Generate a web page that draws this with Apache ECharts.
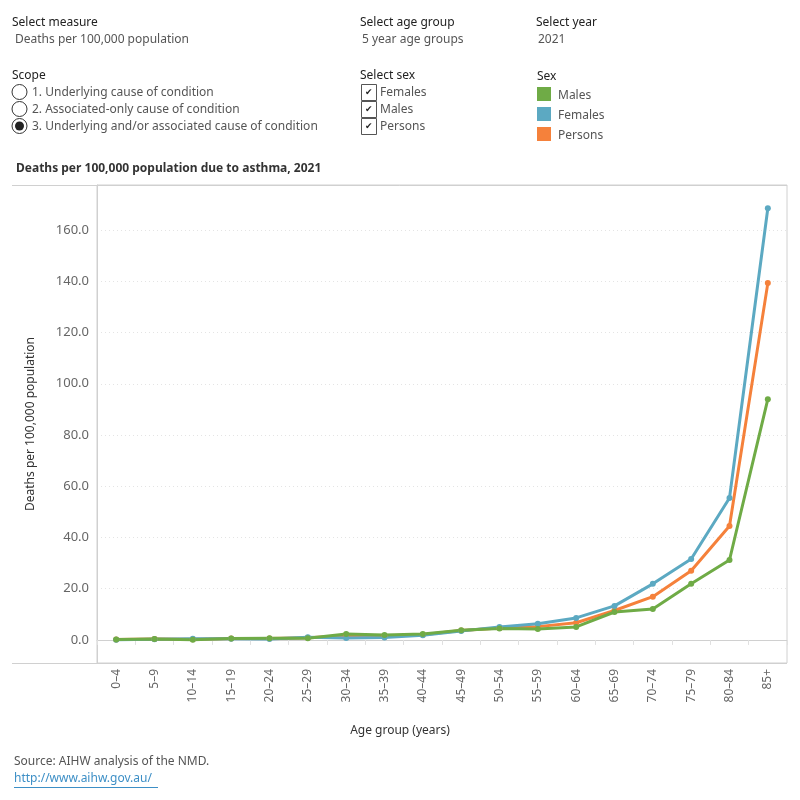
<!DOCTYPE html>
<html>
<head>
<meta charset="utf-8">
<script src="https://cdn.jsdelivr.net/npm/echarts@6/dist/echarts.min.js"></script>
<style>
  html, body { margin: 0; padding: 0; background: #fff; }
  #grafica { width: 800px; height: 800px; }
</style>
</head>
<body>
<div id="grafica"></div>
<script>
const ageGroups = ["0–4", "5–9", "10–14", "15–19", "20–24", "25–29", "30–34", "35–39", "40–44",
  "45–49", "50–54", "55–59", "60–64", "65–69", "70–74", "75–79", "80–84", "85+"];
const males = [0.2, 0.4, 0.1, 0.6, 0.7, 0.7, 2.3, 1.9, 2.3, 3.8, 4.5, 4.3, 5.1, 10.9, 12.1, 21.9, 31.2, 94.0];
const females = [0.1, 0.3, 0.5, 0.5, 0.4, 1.1, 0.8, 1.0, 1.8, 3.5, 5.1, 6.3, 8.6, 13.3, 21.9, 31.6, 55.4, 168.5];
const persons = [0.2, 0.4, 0.3, 0.6, 0.6, 0.9, 1.6, 1.5, 2.0, 3.7, 4.7, 5.2, 6.7, 11.5, 16.9, 27.0, 44.5, 139.3];
const yTicks = [0, 20, 40, 60, 80, 100, 120, 140, 160];

const colors = { Males: "#6fab46", Females: "#5ca9c2", Persons: "#f5813b" };
const font = "'Noto Sans', sans-serif";

const txt = (x, y, text, style) => ({
  type: "text", left: x, top: y,
  style: Object.assign({ text: text, fill: "#333", font: "12px " + font }, style || {})
});

const buildGraphic = () => {
  const g = [];
  g.push(txt(12, 17, "Select measure", { fill: "#222" }));
  g.push(txt(15, 34, "Deaths per 100,000 population", { fill: "#555" }));
  g.push(txt(360, 17, "Select age group", { fill: "#222" }));
  g.push(txt(362, 34, "5 year age groups", { fill: "#555" }));
  g.push(txt(536, 17, "Select year", { fill: "#222" }));
  g.push(txt(538, 34, "2021", { fill: "#555" }));

  // scope radios
  g.push(txt(12, 70, "Scope", { fill: "#222" }));
  const scopes = ["1. Underlying cause of condition", "2. Associated-only cause of condition",
    "3. Underlying and/or associated cause of condition"];
  scopes.forEach((s, i) => {
    const cy = 92 + i * 17;
    g.push({ type: "circle", shape: { cx: 19.5, cy: cy, r: 7.5 },
      style: { fill: "#fff", stroke: "#333", lineWidth: 1 } });
    if (i === 2) {
      g.push({ type: "circle", shape: { cx: 19.5, cy: cy, r: 4.5 }, style: { fill: "#222" } });
    }
    g.push(txt(32, cy - 5, s, { fill: "#555" }));
  });

  // sex checkboxes
  g.push(txt(360, 70, "Select sex", { fill: "#222" }));
  ["Females", "Males", "Persons"].forEach((s, i) => {
    const y = 84 + i * 17;
    g.push({ type: "rect", shape: { x: 361.5, y: y + 0.5, width: 15, height: 16 },
      style: { fill: "#fff", stroke: "#555", lineWidth: 1 } });
    g.push(txt(365, y + 4, "✔", { fill: "#222", font: "9px 'DejaVu Sans'" }));
    g.push(txt(380, y + 3, s, { fill: "#555" }));
  });

  // legend
  g.push(txt(537, 71, "Sex", { fill: "#222" }));
  ["Males", "Females", "Persons"].forEach((s, i) => {
    const y = 87 + i * 20;
    g.push({ type: "rect", shape: { x: 537, y: y, width: 14, height: 14 }, style: { fill: colors[s] } });
    g.push(txt(558, y + 3, s, { fill: "#555" }));
  });

  g.push(txt(16, 163, "Deaths per 100,000 population due to asthma, 2021",
    { fill: "#333", font: "bold 12px " + font }));
  g.push({ type: "line", shape: { x1: 12, y1: 185.5, x2: 787, y2: 185.5 },
    style: { stroke: "#d0d0d0", lineWidth: 1 } });
  g.push({ type: "line", shape: { x1: 12, y1: 663.5, x2: 787, y2: 663.5 },
    style: { stroke: "#d0d0d0", lineWidth: 1 } });

  g.push({ type: "text", x: 400, y: 731,
    style: { text: "Age group (years)", fill: "#333", font: "12px " + font, align: "center", verticalAlign: "middle" } });

  g.push(txt(14, 756, "Source: AIHW analysis of the NMD.", { fill: "#555" }));
  g.push(txt(14, 773, "http://www.aihw.gov.au/", { fill: "#3d8fc6" }));
  g.push({ type: "line", shape: { x1: 14, y1: 787.5, x2: 158, y2: 787.5 },
    style: { stroke: "#3d8fc6", lineWidth: 1 } });
  return g;
};

const lineSeries = (name, data) => ({
  name: name,
  type: "line",
  data: data,
  symbol: "circle",
  symbolSize: 6,
  lineStyle: { width: 3, color: colors[name] },
  itemStyle: { color: colors[name] },
  emphasis: { disabled: true }
});

const getOptionChart = () => ({
  animation: false,
  textStyle: { fontFamily: font },
  grid: {
    left: 97, right: 13, top: 185, bottom: 137,
    show: true, borderColor: "#d0d0d0", borderWidth: 1, containLabel: false
  },
  xAxis: {
    type: "category",
    data: ageGroups,
    boundaryGap: true,
    axisLine: { show: true, lineStyle: { color: "#d0d0d0" } },
    axisTick: { show: true, length: 5, lineStyle: { color: "#e0e0e0" } },
    axisLabel: { rotate: 90, color: "#666", fontSize: 12, margin: 6, interval: 0, fontFamily: font },
    splitLine: { show: false }
  },
  yAxis: {
    type: "value",
    min: -9,
    max: 177.6,
    name: "Deaths per 100,000 population",
    nameLocation: "middle",
    nameGap: 60,
    nameTextStyle: { color: "#333", fontSize: 12, fontFamily: font },
    axisLine: { show: true, lineStyle: { color: "#d0d0d0" } },
    axisTick: { show: false, customValues: yTicks },
    axisLabel: {
      customValues: yTicks,
      color: "#666", fontSize: 13, margin: 8, fontFamily: font,
      formatter: (v) => v.toFixed(1)
    },
    splitLine: { show: true, customValues: yTicks, lineStyle: { color: "#e4e4e4", type: [1, 3] } }
  },
  series: [
    lineSeries("Persons", persons),
    lineSeries("Females", females),
    lineSeries("Males", males)
  ],
  graphic: buildGraphic()
});

const initCharts = () => {
  const chart = echarts.init(document.querySelector("#grafica"));
  chart.setOption(getOptionChart());
};

initCharts();
</script>
</body>
</html>
